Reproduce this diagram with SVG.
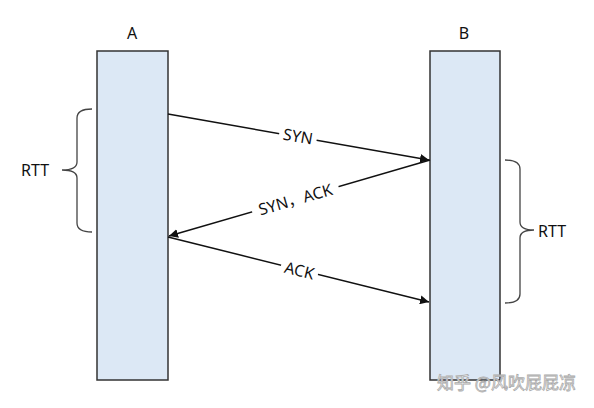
<svg xmlns="http://www.w3.org/2000/svg" width="594" height="408" viewBox="0 0 594 408">
<defs>
<style>
.box{fill:#dce8f5;stroke:#333;stroke-width:1.5}
.t{font-family:"Noto Sans","Open Sans",sans-serif;font-size:16px;fill:#111}
.lbl{font-family:"Noto Sans","Open Sans","Noto Sans CJK SC",sans-serif;font-size:16px;fill:#111;text-anchor:middle}
.bg{fill:#fff}
.cjk{font-family:"Noto Sans CJK SC",sans-serif}
.line{stroke:#111;stroke-width:1.5;fill:none}
.brace{stroke:#444;stroke-width:1.3;fill:none}
.wm{font-family:"Noto Sans CJK SC",sans-serif;font-size:17px;fill:#fff;stroke:#aaa;stroke-width:0.8}
</style>
<marker id="ah" viewBox="0 0 10 10" refX="10" refY="5" markerWidth="9" markerHeight="9" markerUnits="userSpaceOnUse" orient="auto">
<path d="M0,0 L10,5 L0,10 z" fill="#111"/>
</marker>
</defs>
<rect width="594" height="408" fill="#fff"/>
<g id="nodeA">
<rect class="box" x="97" y="51" width="71" height="329"/>
<text class="t" x="132" y="39" text-anchor="middle">A</text>
</g>
<g id="nodeB">
<rect class="box" x="430" y="51" width="70" height="329"/>
<text class="t" x="464" y="39" text-anchor="middle">B</text>
</g>
<g id="rttLeft">
<path class="brace" d="M92,109 Q77,109 77,118 L77,162 Q77,170 62,170 Q77,170 77,178 L77,223 Q77,232 92,232"/>
<text class="t" x="21" y="176">RTT</text>
</g>
<g id="rttRight">
<path class="brace" d="M505,160 Q520,160 520,169 L520,222 Q520,230 534,230 Q520,230 520,238 L520,294 Q520,303 505,303"/>
<text class="t" x="538" y="237">RTT</text>
</g>
<g id="connectors">
<line class="line" x1="168" y1="114" x2="429" y2="160" marker-end="url(#ah)"/>
<line class="line" x1="430" y1="160" x2="169" y2="236" marker-end="url(#ah)"/>
<line class="line" x1="168" y1="237" x2="429" y2="302" marker-end="url(#ah)"/>
<g transform="translate(297,142) rotate(10)">
<rect class="bg" x="-19" y="-13" width="38" height="16"/>
<text class="lbl">SYN</text>
</g>
<g transform="translate(297,205) rotate(-16.2)">
<rect class="bg" x="-45" y="-13" width="90" height="16"/>
<text class="lbl">SYN<tspan class="cjk">，</tspan>ACK</text>
</g>
<g transform="translate(298,276) rotate(13.9)">
<rect class="bg" x="-19" y="-13" width="38" height="16"/>
<text class="lbl">ACK</text>
</g>
</g>
<text class="wm" x="437" y="389">知乎 @风吹屁屁凉</text>
</svg>
